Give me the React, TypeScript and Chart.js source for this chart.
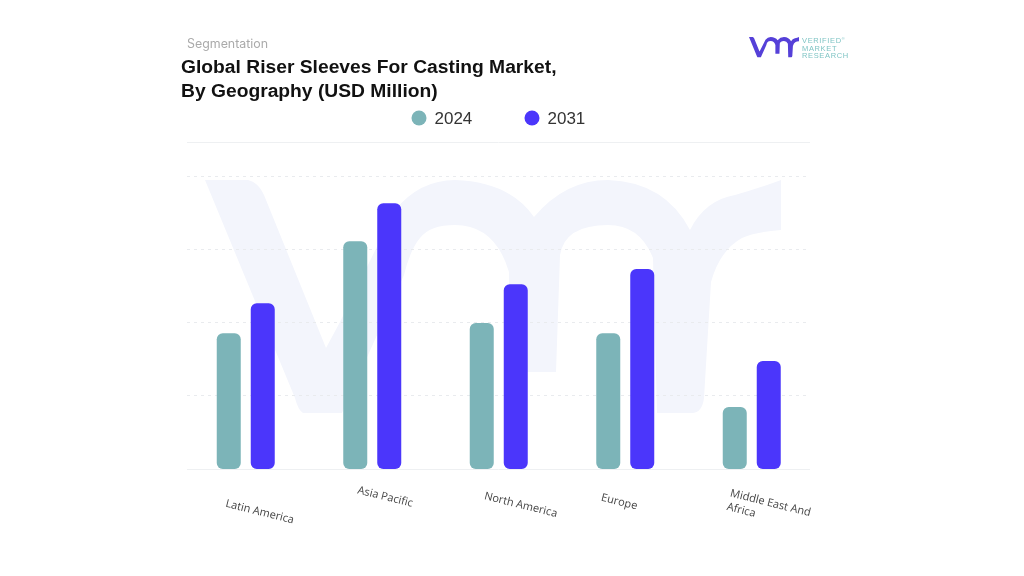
import React, { useEffect, useRef } from "react";
import { Chart, registerables } from "chart.js";

Chart.register(...registerables);

const categories = ["Latin America", "Asia Pacific", "North America", "Europe", ["Middle East And", "Africa"]];
const values2024 = [186, 312, 200, 186, 85];
const values2031 = [227, 364, 253, 274, 148];
const gridValues = [100, 200, 300, 400];
const labelOffsets = [
  [14, 43],
  [13, 28],
  [22, 36],
  [-6, 33],
  [17, 41],
];

const teal = "#7CB4B8";
const blue = "#4B36FB";
const gridLeft = 187;
const gridRight = 810;
const markPath =
  "M205,180 L248,180 Q258,182 264,195 L326,348 L340,322 L395,210 Q420,180 455,180 Q510,182 534,217 Q565,180 608,180 Q665,182 690,230 Q705,200 735,195 Q760,188 781,180 L781,230 Q755,232 742,238 Q720,250 711,282 L704,398 Q702,413 692,413 L657,413 L653,258 Q640,225 608,225 Q565,225 560,255 L556,372 L509,372 L509,272 Q495,225 455,225 Q430,225 420,238 Q410,250 404,275 L342,413 L303,413 Q298,410 295,398 Z";

const decorPlugin = {
  id: "decor",
  beforeDatasetsDraw(chart: any) {
    const { ctx, scales } = chart;
    const y = scales.y;
    ctx.save();
    ctx.lineWidth = 1;
    ctx.strokeStyle = "#EEF0F2";
    ctx.setLineDash([]);
    for (const v of [0, y.max]) {
      const p = Math.round(y.getPixelForValue(v)) + 0.5;
      ctx.beginPath();
      ctx.moveTo(gridLeft, p);
      ctx.lineTo(gridRight, p);
      ctx.stroke();
    }
    ctx.setLineDash([3, 4]);
    ctx.strokeStyle = "#E9EBEE";
    for (const v of gridValues) {
      const p = Math.round(y.getPixelForValue(v)) - 0.5;
      ctx.beginPath();
      ctx.moveTo(gridLeft, p);
      ctx.lineTo(gridRight, p);
      ctx.stroke();
    }
    ctx.restore();
  },
  afterDraw(chart: any) {
    const { ctx, scales, data } = chart;
    const x = scales.x;
    const y = scales.y;
    ctx.save();
    // category labels
    ctx.font = '11px "Open Sans"';
    ctx.fillStyle = "#444";
    ctx.textAlign = "center";
    ctx.textBaseline = "middle";
    data.labels.forEach((label: any, i: number) => {
      const lines = Array.isArray(label) ? label : [label];
      ctx.save();
      ctx.translate(x.getPixelForTick(i) + labelOffsets[i][0], y.getPixelForValue(0) + labelOffsets[i][1]);
      ctx.rotate((14 * Math.PI) / 180);
      lines.forEach((line: string, k: number) => {
        const w = lines.length > 1 ? ctx.measureText(lines[0]).width : 0;
        if (k === 0) {
          ctx.fillText(line, 0, (k - (lines.length - 1) / 2) * 14);
        } else {
          ctx.textAlign = "left";
          ctx.fillText(line, -w / 2, (k - (lines.length - 1) / 2) * 14);
          ctx.textAlign = "center";
        }
      });
      ctx.restore();
    });
    // legend
    const legendX = [419, 532];
    ctx.font = '17px "Liberation Sans"';
    ctx.textAlign = "left";
    data.datasets.forEach((ds: any, i: number) => {
      ctx.beginPath();
      ctx.arc(legendX[i], 118, 7.5, 0, Math.PI * 2);
      ctx.fillStyle = ds.backgroundColor;
      ctx.fill();
      ctx.fillStyle = "#333";
      ctx.fillText(ds.label, legendX[i] + 15.5, 119);
    });
    ctx.restore();
  },
};

export default function App() {
  const ref = useRef<HTMLCanvasElement>(null);
  useEffect(() => {
    const chart = new Chart(ref.current as HTMLCanvasElement, {
      type: "bar",
      data: {
        labels: categories as any,
        datasets: [
          { label: "2024", data: values2024, backgroundColor: teal, borderRadius: 6, borderSkipped: false },
          { label: "2031", data: values2031, backgroundColor: blue, borderRadius: 6, borderSkipped: false },
        ],
      },
      options: {
        animation: false,
        responsive: false,
        layout: { padding: { left: 182.5, right: 209, top: 142, bottom: 107 } },
        datasets: { bar: { categoryPercentage: 0.5375, barPercentage: 0.706 } },
        plugins: { legend: { display: false }, title: { display: false }, tooltip: { enabled: false } },
        scales: {
          x: {
            grid: { display: false, drawTicks: false },
            border: { display: false },
            ticks: { display: false },
            afterFit: (s: any) => { s.height = 0; },
          },
          y: {
            min: 0,
            max: 448,
            grid: { display: false, drawTicks: false },
            border: { display: false },
            ticks: { display: false, stepSize: 100 },
            afterFit: (s: any) => { s.width = 0; },
          },
        },
      } as any,
      plugins: [decorPlugin],
    });
    return () => chart.destroy();
  }, []);

  return (
    <div style={{ position: "fixed", left: 0, top: 0, width: 1024, height: 576, background: "#fff", overflow: "hidden" }}>
      <svg width={1024} height={576} style={{ position: "absolute", left: 0, top: 0 }}>
        <path d={markPath} fill="#F3F5FC" />
        <g transform="translate(731.2,21.4) scale(0.0868)">
          <path d={markPath} fill="#5540D8" />
        </g>
      </svg>
      <canvas ref={ref} width={1024} height={576} style={{ position: "absolute", left: 0, top: 0, display: "block" }} />
      <div style={{ position: "absolute", left: 187, top: 36, font: '12.4px "Inter"', color: "#aaa" }}>Segmentation</div>
      <div style={{ position: "absolute", left: 181, top: 55, font: 'bold 19.25px/23.5px "Liberation Sans"', color: "#111", whiteSpace: "nowrap" }}>
        Global Riser Sleeves For Casting Market,
        <br />
        By Geography (USD Million)
      </div>
      <div style={{ position: "absolute", left: 802, top: 37, font: '7.5px/7.6px "Liberation Sans"', letterSpacing: 0.65, color: "#7FC4C4", whiteSpace: "nowrap" }}>
        VERIFIED<sup style={{ fontSize: 4, lineHeight: 0 }}>®</sup>
        <br />
        MARKET
        <br />
        RESEARCH
      </div>
    </div>
  );
}
